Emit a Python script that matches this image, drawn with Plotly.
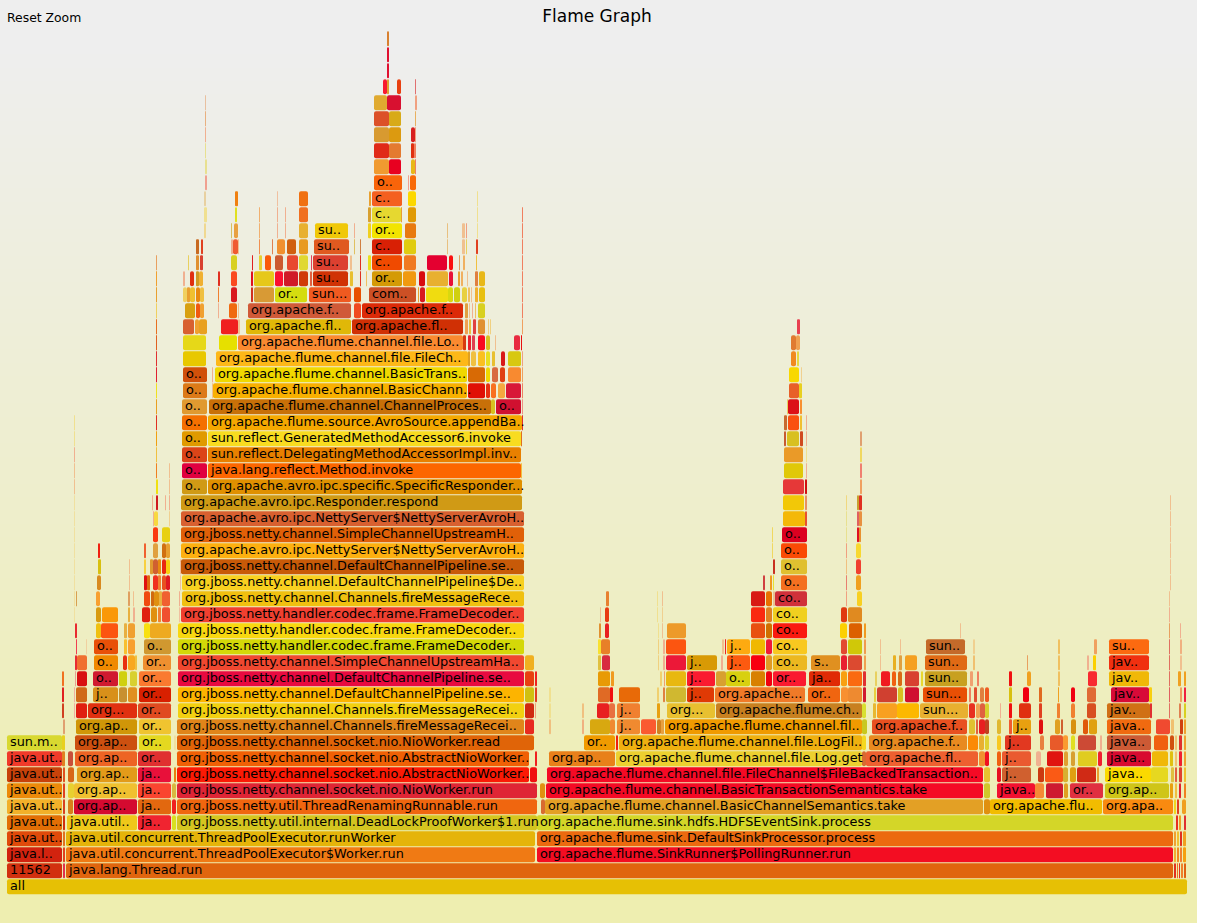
import itertools
import plotly.graph_objects as go

# one list per stack depth: (first sample, sample count, frame name)
# colours for each depth are kept next to it, same order
d00 = [(7, 1180, "all")]
c00 = ["#e6c005"]
d01 = [(7, 55, "11562"), (63, 2), (66, 1107, "java.lang.Thread.run"), (1174, 2), (1177, 1), (1179, 1), (1181, 2), (1184, 2)]
c01 = ["#d2300f", "#e03050", "#e0650e", "#e03020", "#f07020", "#e03020", "#f0802a", "#e06010"]
d02 = [(7, 55, "java.l.."), (63, 2), (66, 469, "java.util.concurrent.ThreadPoolExecutor$Worker.run"), (537, 636, "org.apache.flume.SinkRunner$PollingRunner.run"), (1174, 2), (1177, 2), (1180, 2), (1183, 3)]
c02 = ["#d2230f", "#e04020", "#f07a14", "#f30d22", "#f0b030", "#f08a20", "#f08030", "#f5a010"]
d03 = [(7, 55, "java.ut.."), (63, 2), (66, 469, "java.util.concurrent.ThreadPoolExecutor.runWorker"), (537, 636, "org.apache.flume.sink.DefaultSinkProcessor.process"), (1174, 2), (1177, 2), (1180, 2), (1183, 3)]
c03 = ["#e04a0a", "#e07020", "#e5b40a", "#ec6a0f", "#f0a030", "#f0c030", "#e03020", "#f0a020"]
d04 = [(7, 55, "java.ut.."), (63, 2), (67, 70, "java.util.."), (138, 33, "ja.."), (172, 4), (177, 360, "org.jboss.netty.util.internal.DeadLockProofWorker$1.run"), (537, 636, "org.apache.flume.sink.hdfs.HDFSEventSink.process"), (1176, 2), (1179, 2), (1184, 2)]
c04 = ["#e26e05", "#d03010", "#efc81a", "#f02430", "#d8e020", "#d4c520", "#d4d628", "#e83020", "#f0a020", "#e03030"]
d05 = [(7, 55, "java.ut.."), (63, 2), (68, 5), (74, 63, "org.ap.."), (138, 33, "ja.."), (172, 4), (177, 360, "org.jboss.netty.util.ThreadRenamingRunnable.run"), (541, 4), (545, 438, "org.apache.flume.channel.BasicChannelSemantics.take"), (984, 6), (990, 112, "org.apache.flu.."), (1103, 70, "org.apa.."), (1174, 2), (1177, 2), (1182, 4)]
c05 = ["#f2b02a", "#d84020", "#d8801a", "#d40a30", "#e2680f", "#f02020", "#f0660f", "#d86a30", "#e3a025", "#e0900f", "#f2bc00", "#f98a10", "#f0d820", "#e04020", "#f0a020"]
d06 = [(7, 55, "java.ut.."), (63, 2), (68, 6), (74, 63, "org.ap.."), (138, 33, "ja.."), (172, 4), (177, 360, "org.jboss.netty.channel.socket.nio.NioWorker.run"), (540, 5), (546, 437, "org.apache.flume.channel.BasicTransactionSemantics.take"), (984, 6), (997, 38, "java.."), (1035, 9), (1046, 17), (1064, 4), (1070, 33, "or.."), (1105, 64, "org.ap.."), (1170, 3), (1175, 2), (1179, 2), (1184, 2)]
c06 = ["#ec8a0a", "#e04020", "#e8d030", "#f0c030", "#fa4530", "#d8b840", "#df2535", "#e09010", "#f40a25", "#d0c82a", "#f21030", "#f58a35", "#ce1a30", "#e0a020", "#e03040", "#cfc518", "#e8a010", "#f0c040", "#e02030", "#f08020"]
d07 = [(7, 55, "java.ut.."), (63, 2), (68, 6), (77, 60, "org.ap.."), (138, 33, "ja.."), (174, 2), (177, 352, "org.jboss.netty.channel.socket.nio.AbstractNioWorker.."), (530, 7), (547, 436, "org.apache.flume.channel.file.FileChannel$FileBackedTransaction.."), (984, 6), (997, 4), (1002, 29, "j.."), (1038, 6), (1045, 18), (1063, 5), (1070, 6), (1077, 19), (1097, 2), (1105, 46, "java.."), (1151, 17), (1171, 3), (1175, 2), (1179, 3), (1184, 2)]
c07 = ["#c8420a", "#e05020", "#d86818", "#e29b1a", "#e8103a", "#e88010", "#fb1a05", "#f01010", "#f50a25", "#e8c030", "#e81020", "#d0602f", "#cc3a10", "#fa5a15", "#d8b030", "#e0a010", "#d02a15", "#e8a030", "#fbd900", "#e6d820", "#e0c040", "#e06040", "#e04030", "#f0c030"]
d08 = [(7, 55, "java.ut.."), (62, 3), (68, 5), (75, 62, "org.ap.."), (138, 33, "or.."), (177, 352, "org.jboss.netty.channel.socket.nio.AbstractNioWorker.."), (535, 2), (549, 66, "org.ap.."), (616, 246, "org.apache.flume.channel.file.Log.get"), (862, 4), (866, 112, "org.apache.fl.."), (979, 6), (985, 4), (997, 4), (1002, 29, "j.."), (1036, 5), (1047, 16), (1064, 4), (1071, 4), (1078, 19), (1098, 4), (1107, 44, "java.."), (1152, 16), (1170, 3), (1175, 2), (1179, 3), (1184, 2)]
c08 = ["#f03a2a", "#e08020", "#c8503a", "#ed6424", "#e03030", "#f06005", "#f02020", "#e8801a", "#ecd030", "#d86a30", "#ee6030", "#f09030", "#f01020", "#f06010", "#ea5a30", "#f0b090", "#e01510", "#e0a030", "#d8a030", "#e0cc20", "#f02030", "#d80a30", "#f0b808", "#e0c010", "#f0c070", "#f02030", "#f0a030"]
d09 = [(7, 55, "sun.m.."), (62, 3), (75, 62, "org.ap.."), (139, 32, "or.."), (174, 2), (177, 357, "org.jboss.netty.channel.socket.nio.NioWorker.read"), (584, 31, "or.."), (616, 2), (619, 243, "org.apache.flume.channel.file.LogFil.."), (862, 4), (869, 98, "org.apache.f.."), (968, 10), (979, 5), (985, 4), (997, 4), (1005, 26, "j.."), (1040, 4), (1050, 13), (1063, 5), (1071, 4), (1078, 18), (1100, 2), (1107, 44, "java.."), (1154, 14), (1170, 4), (1175, 2), (1179, 3), (1184, 2)]
c09 = ["#d8d830", "#e8d020", "#cc5010", "#e4d820", "#f0e0a0", "#e06408", "#f09a00", "#f02010", "#efb010", "#f4d820", "#e88a20", "#fb8a05", "#e8b030", "#e0d030", "#f8c820", "#e23820", "#e88040", "#e85a2a", "#fa9a30", "#e0e020", "#cc4a35", "#f0b090", "#cc5a35", "#f06010", "#d05010", "#f0c070", "#e03030", "#f0a030"]
d10 = [(63, 2), (76, 61, "org.ap.."), (139, 32, "or.."), (177, 347, "org.jboss.netty.channel.Channels.fireMessageRecei.."), (525, 9), (549, 2), (582, 2), (590, 20), (610, 5), (617, 23, "j.."), (641, 15), (657, 4), (661, 3), (665, 197, "org.apache.flume.channel.fil.."), (862, 5), (872, 95, "org.apache.f.."), (969, 6), (976, 2), (979, 6), (985, 4), (997, 4), (1009, 3), (1013, 18, "j.."), (1039, 4), (1055, 5), (1061, 2), (1071, 5), (1083, 5), (1089, 8), (1107, 44, "java.."), (1156, 14), (1171, 3), (1180, 3), (1184, 2)]
c10 = ["#e0a070", "#d09608", "#f0c430", "#e0851a", "#e82a20", "#f0c080", "#f0b080", "#d8a810", "#f08a30", "#f08a30", "#fa5a30", "#d08020", "#e8a040", "#f09a00", "#c8c820", "#e85020", "#e0c030", "#e06040", "#e82020", "#c04020", "#e0b830", "#f05a30", "#e8a010", "#e01010", "#e0a020", "#d06030", "#d89010", "#e05a0a", "#e0a010", "#f06a10", "#f04a30", "#f0c070", "#d04010", "#f0a030"]
d11 = [(62, 2), (74, 1), (76, 11), (88, 49, "org..."), (138, 33, "or.."), (178, 346, "org.jboss.netty.channel.Channels.fireMessageRecei.."), (525, 9), (535, 1), (549, 2), (582, 2), (597, 12), (609, 6), (617, 23, "j.."), (657, 3), (667, 48, "org..."), (716, 146, "org.apache.flume.ch.."), (862, 4), (873, 3), (877, 20), (897, 22), (920, 48, "sun..."), (969, 6), (976, 4), (980, 5), (985, 4), (1000, 1), (1009, 3), (1019, 12), (1039, 3), (1057, 3), (1071, 4), (1087, 9), (1107, 43, "jav.."), (1150, 2), (1169, 1), (1179, 2), (1184, 2)]
c11 = ["#d04020", "#f0b0a0", "#e02010", "#e03010", "#e04a20", "#f2d010", "#d02a10", "#f0a080", "#f0e090", "#f0c080", "#e82020", "#e87040", "#f08030", "#e8a010", "#e8c030", "#c88020", "#d8e030", "#e8b830", "#f8a020", "#fcb800", "#e8b030", "#e83020", "#f0a050", "#e06040", "#d8d030", "#f0b090", "#f01010", "#e03010", "#e04020", "#f08030", "#f08030", "#d85020", "#d07015", "#e03030", "#e07060", "#e08050", "#d8d020"]
d12 = [(62, 2), (74, 1), (76, 11), (93, 25, "j.."), (119, 8), (128, 9), (139, 32, "or.."), (178, 346, "org.jboss.netty.channel.DefaultChannelPipeline.se.."), (525, 9), (535, 2), (549, 2), (598, 12), (610, 3), (619, 21), (657, 2), (663, 2), (666, 20), (687, 27, "j.."), (715, 90, "org.apache..."), (808, 32, "or.."), (841, 7), (848, 14), (863, 3), (874, 2), (877, 20), (898, 5), (905, 14), (923, 44, "sun..."), (969, 2), (974, 3), (980, 4), (985, 4), (1009, 3), (1023, 6), (1039, 3), (1058, 1), (1071, 4), (1087, 9), (1111, 38, "jav.."), (1149, 3), (1169, 1), (1180, 2), (1184, 2)]
c12 = ["#e02020", "#f0b0a0", "#d06a18", "#d8901a", "#c89030", "#e09020", "#d82000", "#fdb400", "#d0c010", "#e04020", "#f0e090", "#e06a25", "#f01010", "#e86a08", "#f0d070", "#e08040", "#d0b830", "#e03a05", "#f07a28", "#f06510", "#f89030", "#ee8a30", "#d01a30", "#e8d040", "#d04030", "#d8c020", "#d01030", "#e84f05", "#f08060", "#e05030", "#e08040", "#f05a20", "#d8c010", "#f00010", "#e06a20", "#f0a020", "#f00010", "#e06a35", "#d80a38", "#f8d010", "#e06060", "#f0a060", "#f02040"]
d13 = [(62, 2), (75, 1), (77, 10), (93, 25, "o.."), (119, 8), (130, 7), (139, 32, "or.."), (178, 346, "org.jboss.netty.channel.DefaultChannelPipeline.se.."), (525, 9), (535, 2), (598, 12), (611, 3), (660, 2), (664, 1), (666, 20), (687, 28, "j.."), (716, 10), (726, 24, "o.."), (751, 14), (766, 6), (773, 33, "or.."), (809, 31, "ja.."), (841, 6), (848, 14), (863, 3), (875, 2), (881, 9), (892, 4), (898, 4), (905, 14), (921, 2), (925, 42, "sun.."), (970, 3), (977, 2), (1009, 3), (1027, 4), (1058, 2), (1088, 9), (1109, 40, "jav.."), (1169, 1), (1178, 3), (1184, 2)]
c13 = ["#f07020", "#e8a090", "#d81010", "#d01a30", "#d0d010", "#d8d030", "#fa7a30", "#e80a40", "#e84010", "#f02020", "#e89a05", "#f09a20", "#f0d070", "#f0a070", "#e8b810", "#fa1a30", "#d8a030", "#d8d010", "#d88000", "#f00010", "#fa1a30", "#e02a05", "#f8a010", "#fa6a10", "#e03030", "#e8d060", "#f01a20", "#f06010", "#d86a15", "#d84030", "#e8d830", "#c8a020", "#f0a070", "#f08060", "#f01010", "#f0a020", "#f0c060", "#f82a30", "#f0b808", "#e07060", "#f0a020", "#f0a020"]
d14 = [(75, 2), (77, 10), (94, 24, "o.."), (123, 4), (128, 7), (135, 2), (143, 28, "or.."), (178, 346, "org.jboss.netty.channel.SimpleChannelUpstreamHa.."), (525, 9), (598, 3), (602, 8), (658, 1), (663, 2), (666, 20), (687, 30, "j.."), (721, 2), (727, 23, "j.."), (751, 14), (766, 6), (773, 34, "co.."), (811, 29, "s.."), (841, 6), (848, 14), (864, 2), (880, 1), (893, 3), (899, 3), (905, 12), (925, 42, "sun.."), (973, 2), (1027, 1), (1058, 2), (1093, 3), (1087, 2), (1109, 40, "jav.."), (1169, 1), (1180, 2)]
c14 = ["#e82a30", "#f07030", "#f08a00", "#e83010", "#f8a820", "#f0c040", "#ee9030", "#f04830", "#f0b020", "#e0c040", "#d82a40", "#f0d080", "#f0b090", "#ec1838", "#d89a05", "#f0b090", "#fc5a10", "#f80010", "#e09a25", "#ecb820", "#e09020", "#e82030", "#dc4a30", "#f0a050", "#f0c090", "#e8b020", "#e0a040", "#f5a020", "#e06a15", "#f0c070", "#e8a060", "#f0c060", "#fbd000", "#f0b090", "#f03010", "#e07060", "#f0c090"]
d15 = [(76, 1), (86, 1), (94, 24, "o.."), (124, 3), (128, 7), (144, 27, "o.."), (178, 346, "org.jboss.netty.handler.codec.frame.FrameDecoder.."), (598, 3), (601, 9), (658, 1), (663, 2), (666, 20), (722, 2), (725, 1), (727, 23, "j.."), (751, 14), (766, 6), (773, 34, "co.."), (841, 6), (848, 14), (864, 2), (880, 1), (900, 1), (926, 39, "sun.."), (973, 2), (1058, 2), (1094, 3), (1109, 40, "su.."), (1169, 1), (1180, 2)]
c15 = ["#f04050", "#f0d0a0", "#e85008", "#f8c030", "#f8a030", "#d09830", "#d4d808", "#f8e030", "#e88028", "#f0d080", "#f0b090", "#fc5510", "#f0c090", "#f02020", "#fdaa10", "#f0b800", "#f01838", "#f8c820", "#e24a30", "#d0c808", "#f09a50", "#f0c090", "#f0c090", "#c46a2a", "#f0d090", "#f0c060", "#f0a060", "#fc6a10", "#e07060", "#f0b080"]
d16 = [(75, 2), (96, 5), (101, 17), (124, 3), (128, 7), (144, 6), (150, 21), (178, 346, "org.jboss.netty.handler.codec.frame.FrameDecoder.."), (599, 2), (605, 4), (658, 1), (662, 1), (667, 19), (751, 14), (766, 6), (773, 34, "co.."), (840, 7), (849, 13), (864, 2), (960, 1), (1169, 1), (1180, 1)]
c16 = ["#e82a30", "#f0c010", "#fc5510", "#e8b040", "#f0a030", "#f8e010", "#eeaa20", "#f8d810", "#e09030", "#e82020", "#f0e090", "#f0c090", "#ed9a2a", "#e85010", "#d07000", "#fa1a10", "#fcd000", "#dc6000", "#f09a20", "#f0c090", "#e8a060", "#f0b090"]
d17 = [(74, 1), (96, 5), (102, 16), (128, 2), (133, 2), (142, 8), (151, 6), (158, 3), (162, 8), (179, 1), (181, 343, "org.jboss.netty.handler.codec.frame.FrameDecoder.."), (600, 1), (605, 4), (657, 1), (662, 1), (751, 14), (766, 6), (773, 34, "co.."), (841, 6), (848, 14), (1169, 1)]
c17 = ["#f0e0a0", "#d89a10", "#fa9808", "#e8b040", "#f0b090", "#e02010", "#e09010", "#f08030", "#f05030", "#f0c0a0", "#f04030", "#f0c090", "#e83a10", "#f0e090", "#f0d090", "#fa2a10", "#e08020", "#f0d020", "#e03a10", "#e08a20", "#f0b090"]
d18 = [(74, 1), (76, 1), (96, 4), (128, 2), (133, 1), (144, 6), (151, 3), (154, 5), (159, 3), (162, 8), (179, 1), (182, 342, "org.jboss.netty.channel.Channels.fireMessageRece.."), (606, 3), (657, 1), (662, 1), (751, 14), (766, 6), (773, 2), (775, 32, "co.."), (846, 1), (857, 5), (1169, 1)]
c18 = ["#f0e0a0", "#d8a050", "#f8a030", "#e0a060", "#f0c090", "#f04a10", "#d06a10", "#e09010", "#e8b040", "#f06030", "#f0b090", "#f0c010", "#e88030", "#f0e090", "#f0c090", "#d81a14", "#e87000", "#e8c090", "#d0303a", "#f0a080", "#f8d020", "#f0c090"]
d19 = [(74, 1), (97, 4), (129, 1), (144, 3), (147, 3), (153, 5), (158, 3), (162, 4), (166, 4), (180, 1), (182, 342, "org.jboss.netty.channel.DefaultChannelPipeline$De.."), (763, 2), (770, 2), (773, 1), (781, 26, "o.."), (846, 1), (856, 5), (1170, 1)]
c19 = ["#f0e0a0", "#d88a20", "#f0c090", "#e01010", "#e06a10", "#f03020", "#f08030", "#e85020", "#e01a20", "#f0c0a0", "#f8d020", "#d04040", "#f09a20", "#e8e030", "#f47020", "#e88070", "#f0a020", "#f0c090"]
d20 = [(74, 1), (98, 3), (129, 1), (144, 2), (150, 3), (153, 5), (158, 3), (162, 4), (166, 4), (180, 1), (181, 343, "org.jboss.netty.channel.DefaultChannelPipeline.se.."), (773, 2), (781, 26, "o.."), (846, 1), (856, 5), (1170, 1)]
c20 = ["#f0e0a0", "#d8c010", "#f0c090", "#f8d040", "#e09a30", "#d06030", "#e88a10", "#e82a10", "#f8d010", "#f0c0a0", "#c85a08", "#c83020", "#e0c030", "#f0c080", "#f04030", "#f0c090"]
d21 = [(74, 1), (98, 2), (144, 2), (153, 5), (162, 4), (166, 4), (181, 343, "org.apache.avro.ipc.NettyServer$NettyServerAvroH.."), (772, 1), (781, 26, "o.."), (846, 1), (856, 5), (1170, 1)]
c21 = ["#f0e0a0", "#f02010", "#f06030", "#e0a040", "#d07010", "#e8a030", "#fdb010", "#f0d860", "#fa4a05", "#f0a080", "#f8d830", "#f0c090"]
d22 = [(74, 1), (153, 5), (162, 8), (181, 343, "org.jboss.netty.channel.SimpleChannelUpstreamH.."), (772, 1), (782, 25, "o.."), (846, 1), (857, 2), (859, 2), (1170, 1)]
c22 = ["#f0e0a0", "#fa3a10", "#e8d010", "#e06008", "#f0d860", "#dc0020", "#e8e090", "#e01020", "#e89030", "#f0c090"]
d23 = [(74, 1), (153, 1), (154, 4), (169, 1), (181, 343, "org.apache.avro.ipc.NettyServer$NettyServerAvroH.."), (783, 22), (805, 2), (846, 1), (857, 2), (859, 3), (1170, 1)]
c23 = ["#f0e0a0", "#f0b090", "#f8d840", "#f0d090", "#d86030", "#f4b808", "#e85030", "#e8e090", "#e06060", "#e89040", "#f0c090"]
d24 = [(74, 1), (152, 1), (156, 2), (165, 1), (169, 1), (181, 341, "org.apache.avro.ipc.Responder.respond"), (783, 21), (805, 2), (846, 1), (857, 2), (859, 3), (1170, 1)]
c24 = ["#f0e0a0", "#f0b090", "#d01a20", "#f0b090", "#f0b090", "#d09a15", "#f2c808", "#e89060", "#f0d880", "#c8a030", "#e03020", "#f0c090"]
d25 = [(74, 1), (156, 2), (169, 1), (182, 25, "o.."), (208, 314, "org.apache.avro.ipc.specific.SpecificResponder..."), (783, 21), (805, 2), (860, 2)]
c25 = ["#f0c090", "#f0e010", "#f0c090", "#d09a15", "#e09000", "#e63838", "#d01010", "#f0a060"]
d26 = [(74, 1), (156, 1), (169, 1), (182, 25, "o.."), (208, 313, "java.lang.reflect.Method.invoke"), (521, 1), (784, 19), (806, 1), (860, 2)]
c26 = ["#f0c090", "#f08020", "#f0c090", "#e00040", "#fc6600", "#f0c040", "#e0c808", "#f0b090", "#f08070"]
d27 = [(74, 1), (156, 1), (182, 25, "o.."), (208, 313, "sun.reflect.DelegatingMethodAccessorImpl.inv.."), (784, 19), (806, 1), (860, 2)]
c27 = ["#f0b090", "#f0c040", "#dc4418", "#e88000", "#ea9a28", "#f0e090", "#f0d860"]
d28 = [(74, 1), (156, 1), (182, 25, "o.."), (208, 313, "sun.reflect.GeneratedMethodAccessor6.invoke"), (521, 1), (784, 2), (787, 12), (800, 3), (806, 1), (860, 2)]
c28 = ["#f0e090", "#f0a010", "#e09a00", "#f8dc20", "#e07020", "#c85a30", "#d8c020", "#d04a20", "#f0b090", "#e0a070"]
d29 = [(74, 1), (156, 1), (182, 25, "o.."), (208, 314, "org.apache.flume.source.AvroSource.appendBa.."), (522, 1), (784, 3), (788, 11), (800, 2), (806, 1)]
c29 = ["#f0e090", "#e03020", "#f47000", "#f5a800", "#e03030", "#c86a30", "#fa5010", "#f0c030", "#f0b090"]
d30 = [(156, 1), (182, 25, "o.."), (209, 282, "org.apache.flume.channel.ChannelProces.."), (491, 4), (496, 25, "o.."), (522, 1), (787, 1), (788, 11), (800, 2)]
c30 = ["#e8a020", "#e09a30", "#c87008", "#d8c020", "#d01030", "#f09080", "#e8d060", "#dc1018", "#f89030"]
d31 = [(156, 1), (183, 24, "o.."), (212, 1), (213, 254, "org.apache.flume.channel.BasicChann.."), (468, 17), (486, 4), (491, 5), (498, 7), (506, 15), (522, 1), (789, 10), (799, 3)]
c31 = ["#f0e020", "#dc7a18", "#f0c090", "#f8b000", "#e01005", "#e83010", "#f87020", "#f5a840", "#d81838", "#f08060", "#e86028", "#e8d020"]
d32 = [(156, 1), (183, 24, "o.."), (212, 1), (215, 252, "org.apache.flume.channel.BasicTrans.."), (468, 17), (486, 4), (492, 6), (500, 5), (508, 13), (522, 1), (789, 10), (801, 1)]
c32 = ["#e02030", "#d0500a", "#f0b090", "#f0d800", "#d86a05", "#f0d800", "#d86a40", "#e04010", "#f88a30", "#f0a060", "#f8d800", "#f0d090"]
d33 = [(156, 1), (183, 23), (216, 252, "org.apache.flume.channel.file.FileCh.."), (468, 2), (471, 5), (478, 7), (486, 4), (492, 3), (501, 4), (508, 13), (522, 1), (791, 5), (797, 2)]
c33 = ["#e03030", "#e8c800", "#fdb818", "#e0a020", "#f0c040", "#fac020", "#e8e020", "#e8c030", "#d81818", "#d8c810", "#f0a080", "#f08a20", "#e8d840"]
d34 = [(156, 1), (183, 23), (219, 18), (238, 225, "org.apache.flume.channel.file.Lo.."), (463, 3), (468, 3), (472, 3), (478, 7), (486, 4), (495, 1), (514, 6), (521, 1), (791, 5), (796, 4)]
c34 = ["#e06020", "#e6d818", "#e6e000", "#fa8a30", "#d83a10", "#e82030", "#e04050", "#f90a20", "#d8c020", "#f0c090", "#e82a40", "#e81010", "#e07a30", "#f0a050"]
d35 = [(156, 1), (183, 11), (195, 4), (199, 8), (221, 17), (238, 2), (246, 105, "org.apache.fl.."), (352, 111, "org.apache.fl.."), (465, 3), (469, 2), (473, 3), (478, 7), (488, 1), (490, 1), (522, 1), (797, 3)]
c35 = ["#e87020", "#d86030", "#f0a030", "#e8a020", "#f02020", "#f0c090", "#e0b808", "#d03005", "#f0a050", "#e8c040", "#e04040", "#e09030", "#f0d080", "#f0d080", "#f0a060", "#e84050"]
d36 = [(156, 1), (185, 10), (196, 4), (200, 4), (218, 1), (229, 8), (238, 1), (248, 103, "org.apache.f.."), (354, 7), (362, 101, "org.apache.f.."), (465, 3), (469, 1), (472, 1), (475, 1), (478, 7), (522, 1)]
c36 = ["#f0d060", "#d8a010", "#f05a10", "#f0a030", "#f0b090", "#f06a10", "#f0c090", "#d05a38", "#f04a20", "#dc2a08", "#e0a040", "#f0c090", "#f0b090", "#f0c060", "#d8d020", "#f08060"]
d37 = [(156, 1), (183, 4), (187, 3), (190, 5), (196, 4), (200, 4), (218, 1), (231, 6), (251, 2), (254, 20), (275, 32, "or.."), (309, 42, "sun..."), (354, 7), (369, 47, "com.."), (418, 1), (420, 5), (426, 22), (448, 5), (454, 6), (462, 5), (468, 2), (471, 1), (475, 3), (479, 6), (522, 1)]
c37 = ["#e8a030", "#f0d060", "#e8a030", "#f0c030", "#e88a10", "#f0c040", "#f08030", "#d81a20", "#d03020", "#d89a35", "#d4dc10", "#f05a20", "#e85000", "#cc5025", "#e8a030", "#d81a20", "#f0dc10", "#d8d810", "#d0d010", "#e8d040", "#f0c060", "#f0c090", "#f0b030", "#e8c010", "#f08060"]
d38 = [(156, 1), (183, 2), (190, 4), (196, 3), (199, 4), (218, 2), (231, 6), (251, 2), (254, 20), (275, 8), (284, 14), (299, 9), (310, 2), (313, 35, "su.."), (350, 3), (360, 1), (366, 1), (372, 30, "or.."), (403, 13), (419, 6), (427, 21), (449, 4), (458, 2), (461, 2), (467, 1), (475, 3), (479, 6), (522, 1)]
c38 = ["#f0a030", "#f0b090", "#e03010", "#d09a20", "#f0b030", "#e03020", "#fa4a20", "#e01020", "#e6c81a", "#fa1030", "#d01a28", "#d03a08", "#e06040", "#d03205", "#e8c030", "#e03020", "#f0c060", "#d49a05", "#f09a10", "#d80a10", "#e8b030", "#e81038", "#e8a030", "#f0b060", "#f0c090", "#e08040", "#e8b818", "#f08060"]
d39 = [(156, 1), (188, 1), (196, 3), (200, 3), (231, 6), (252, 1), (259, 3), (265, 6), (275, 8), (287, 11), (299, 9), (311, 1), (313, 35, "su.."), (350, 2), (360, 1), (368, 3), (372, 30, "c.."), (404, 12), (427, 20), (449, 4), (459, 1), (463, 2), (476, 1), (522, 1)]
c39 = ["#e8a060", "#e8d060", "#e09030", "#d84030", "#d8d020", "#e02020", "#e8d030", "#fa5a08", "#cc5a30", "#e84a30", "#e0d830", "#e04060", "#dc4030", "#f0c090", "#e03020", "#e8e020", "#f04a00", "#f07a20", "#e40030", "#fa1010", "#e0a060", "#f0b060", "#f0c040", "#f08060"]
d40 = [(196, 3), (201, 2), (231, 2), (233, 5), (238, 1), (259, 1), (272, 1), (277, 8), (287, 9), (299, 9), (314, 35, "su.."), (354, 1), (360, 1), (372, 30, "c.."), (404, 12), (447, 1), (462, 3), (466, 1), (476, 2), (522, 1)]
c40 = ["#c86a20", "#e04020", "#f0b090", "#f05a30", "#f0c090", "#f09050", "#e08050", "#f09030", "#d06010", "#e89a20", "#e05a20", "#e0c060", "#d08040", "#d82005", "#e0cc10", "#e8c080", "#f0c090", "#e8d060", "#e04020", "#f08060"]
d41 = [(204, 2), (231, 1), (234, 4), (259, 1), (277, 1), (285, 1), (299, 9), (315, 33, "su.."), (354, 1), (368, 3), (372, 30, "or.."), (405, 11), (447, 1), (462, 3), (466, 1), (477, 1), (522, 1)]
c41 = ["#f0d890", "#d8c060", "#e8a040", "#f0b070", "#f0b090", "#f0b090", "#e8b030", "#f0c808", "#f0b090", "#f0d020", "#f2e400", "#e87a10", "#e8c080", "#f0c090", "#f0a080", "#f0e090", "#f08060"]
d42 = [(204, 3), (235, 2), (259, 1), (277, 1), (285, 1), (299, 9), (368, 3), (372, 29, "c.."), (401, 1), (408, 8), (477, 1), (522, 1)]
c42 = ["#f0e090", "#e0e020", "#f0b070", "#f0b090", "#f0b090", "#f07020", "#d8a030", "#e6d830", "#e8a030", "#e09a05", "#f0e090", "#f08060"]
d43 = [(204, 2), (235, 3), (277, 1), (299, 9), (369, 2), (372, 30, "c.."), (408, 8), (477, 1)]
c43 = ["#e8d0a0", "#f08010", "#f0c0a0", "#f07010", "#e8a030", "#f46020", "#fcd800", "#f0e090"]
d44 = [(205, 2), (374, 28, "o.."), (408, 1), (410, 6)]
c44 = ["#f0a090", "#f8640a", "#f0a090", "#f86a08"]
d45 = [(205, 2), (374, 15), (389, 12), (411, 4), (415, 1)]
c45 = ["#e8e090", "#f09a30", "#e80020", "#e8b818", "#f08060"]
d46 = [(205, 1), (374, 15), (389, 12), (411, 3), (414, 2)]
c46 = ["#e8e090", "#e02a18", "#e47a30", "#e03010", "#f08060"]
d47 = [(205, 1), (374, 15), (389, 12), (411, 4), (415, 1)]
c47 = ["#f0b090", "#d89a30", "#dc9a10", "#d82020", "#f0a080"]
d48 = [(205, 1), (374, 15), (389, 12), (415, 1)]
c48 = ["#e8b080", "#dc5028", "#d8aa18", "#e8b060"]
d49 = [(205, 1), (374, 13), (387, 14), (415, 2)]
c49 = ["#e8c0a0", "#e0aa30", "#d81030", "#f0a080"]
d50 = [(383, 4), (387, 2), (397, 4), (415, 1)]
c50 = ["#f81a30", "#e0a030", "#e84010", "#e07070"]
d51 = [(387, 2)]
c51 = ["#e01030"]
d52 = [(387, 2)]
c52 = ["#e01030"]
d53 = [(387, 2)]
c53 = ["#d88030"]

all_depths = [d00, d01, d02, d03, d04, d05, d06, d07, d08, d09,
              d10, d11, d12, d13, d14, d15, d16, d17, d18, d19,
              d20, d21, d22, d23, d24, d25, d26, d27, d28, d29,
              d30, d31, d32, d33, d34, d35, d36, d37, d38, d39,
              d40, d41, d42, d43, d44, d45, d46, d47, d48, d49,
              d50, d51, d52, d53]
all_colors = [c00, c01, c02, c03, c04, c05, c06, c07, c08, c09,
              c10, c11, c12, c13, c14, c15, c16, c17, c18, c19,
              c20, c21, c22, c23, c24, c25, c26, c27, c28, c29,
              c30, c31, c32, c33, c34, c35, c36, c37, c38, c39,
              c40, c41, c42, c43, c44, c45, c46, c47, c48, c49,
              c50, c51, c52, c53]

depths, starts, samples, names, colors = [], [], [], [], []
for depth, (row, row_colors) in enumerate(zip(all_depths, all_colors)):
    pal = itertools.cycle(row_colors)
    for frame in row:
        depths.append(depth)
        starts.append(frame[0])
        samples.append(frame[1])
        names.append(frame[2] if len(frame) > 2 else "")
        colors.append(next(pal))

fig = go.Figure()

# background gradient of the svg, stops at the right edge of the flame graph
fig.add_trace(go.Heatmap(
    x=[299.25, 897.75],
    y=[-2.27, 0.5, 52.5, 55.42],
    z=[[1, 1], [1, 1], [0, 0], [0, 0]],
    colorscale=[[0, "#eeeeee"], [1, "#eeeeb0"]],
    zsmooth="best",
    showscale=False,
    hoverinfo="skip",
))

fig.add_trace(go.Bar(
    y=depths,
    x=samples,
    base=starts,
    orientation="h",
    width=15 / 16,
    marker=dict(color=colors, line_width=0, cornerradius=2),
    hovertext=names,
    hoverinfo="text",
))

label_x = [s + 3 for s, n in zip(starts, names) if n]
label_y = [d for d, n in zip(depths, names) if n]
label_text = [n for n in names if n]
fig.add_trace(go.Scatter(
    x=label_x,
    y=label_y,
    text=label_text,
    mode="text",
    textposition="middle right",
    textfont=dict(family="DejaVu Sans", size=12.85, color="black"),
    hoverinfo="skip",
    cliponaxis=False,
))

fig.update_xaxes(range=[0, 1208], visible=False)
fig.update_yaxes(range=[-2.27, 55.42], visible=False)
fig.update_layout(
    width=1208,
    height=923,
    margin=dict(l=0, r=0, t=0, b=0),
    paper_bgcolor="white",
    plot_bgcolor="white",
    barmode="overlay",
    showlegend=False,
    title=dict(text="Flame Graph", x=597 / 1208, xanchor="center", y=1 - 16 / 923, yanchor="middle",
               font=dict(family="DejaVu Sans", size=17, color="black")),
    annotations=[dict(text="Reset Zoom", xref="paper", yref="paper", x=5 / 1208, y=1 - 17 / 923,
                      xanchor="left", yanchor="middle", showarrow=False,
                      font=dict(family="DejaVu Sans", size=12.4, color="black"))],
)

fig.write_html("out.html", config={"displayModeBar": False},
               post_script="document.body.style.margin='0';document.documentElement.style.overflow='hidden';")
